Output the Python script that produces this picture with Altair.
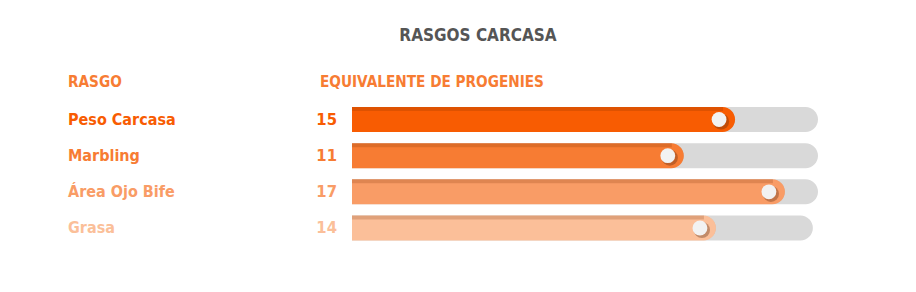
import altair as alt
import pandas as pd

# data
rasgos = ["Peso Carcasa", "Marbling", "Área Ojo Bife", "Grasa"]
progenies = [15, 11, 17, 14]
bar_pct = [82.2, 71.2, 92.9, 78.1]
track_pct = [100, 100, 100, 98.9]
colors = ["#F85C02", "#F77C33", "#F99C66", "#FBBF99"]

df = pd.DataFrame({
    "idx": list(range(len(rasgos))),
    "rasgo": rasgos,
    "prog": progenies,
    "pct": bar_pct,
    "track": track_pct,
    "color": colors,
    "zero": [0] * len(rasgos),
})

FONT = "DejaVu Sans Condensed, Liberation Sans Narrow, DejaVu Sans, sans-serif"

xs = alt.Scale(domain=[0, 100], range=[352, 818])
ys = alt.Scale(domain=[0, 3], range=[119.5, 228], padding=0, nice=False, zero=False)
Y = alt.Y("idx:Q", scale=ys, axis=None)

base = alt.Chart(df)
R = 12.5

track = base.mark_bar(height=25, cornerRadiusTopRight=R, cornerRadiusBottomRight=R, color="#D9D9D9").encode(
    x=alt.X("zero:Q", scale=xs, axis=None), x2="track:Q", y=Y
)
endring = base.mark_circle(size=560, color="#8a3a10", opacity=0.22, xOffset=-12).encode(
    x=alt.X("pct:Q", scale=xs, axis=None), y=Y
)
bar = base.mark_bar(height=25, cornerRadiusTopRight=R, cornerRadiusBottomRight=R).encode(
    x=alt.X("zero:Q", scale=xs, axis=None), x2="pct:Q", y=Y,
    color=alt.Color("color:N", scale=None),
)
topshade = base.mark_bar(height=4, yOffset=-10.5, x2Offset=-12, color="#7a2e00", opacity=0.2).encode(
    x=alt.X("zero:Q", scale=xs, axis=None), x2="pct:Q", y=Y
)
knob_shadow = base.mark_circle(size=260, color="#5a2a10", opacity=0.35, xOffset=-14, yOffset=2).encode(
    x=alt.X("pct:Q", scale=xs, axis=None), y=Y
)
knob = base.mark_circle(size=220, color="#F2F2F2", opacity=1, xOffset=-16).encode(
    x=alt.X("pct:Q", scale=xs, axis=None), y=Y
)

labels = base.mark_text(font=FONT, fontWeight="bold", fontSize=16, align="left", baseline="middle").encode(
    x=alt.value(68), y=Y, text="rasgo:N", color=alt.Color("color:N", scale=None)
)
values = base.mark_text(font=FONT, fontWeight="bold", fontSize=16.5, align="right", baseline="middle").encode(
    x=alt.value(337), y=Y, text="prog:Q", color=alt.Color("color:N", scale=None)
)

title = alt.Chart(pd.DataFrame({"t": ["RASGOS CARCASA"]})).mark_text(
    font=FONT, fontWeight="bold", fontSize=17, color="#555555", align="center", baseline="middle"
).encode(x=alt.value(478), y=alt.value(36), text="t:N")

headers = alt.Chart(pd.DataFrame({"t": ["RASGO", "EQUIVALENTE DE PROGENIES"], "x": [68, 320]})).mark_text(
    font=FONT, fontWeight="bold", fontSize=15.2, color="#F77C33", align="left", baseline="middle"
).encode(x=alt.X("x:Q", scale=alt.Scale(domain=[0, 916], range=[0, 916]), axis=None), y=alt.value(82), text="t:N")

chart = alt.layer(track, endring, bar, topshade, knob_shadow, knob, labels, values, title, headers).resolve_scale(
    x="independent"
).properties(
    width=916, height=292, padding=0, autosize=alt.AutoSizeParams(type="none"), background="white"
).configure_view(stroke=None)

chart.save("out.html", embed_options={"renderer": "svg", "actions": False})
